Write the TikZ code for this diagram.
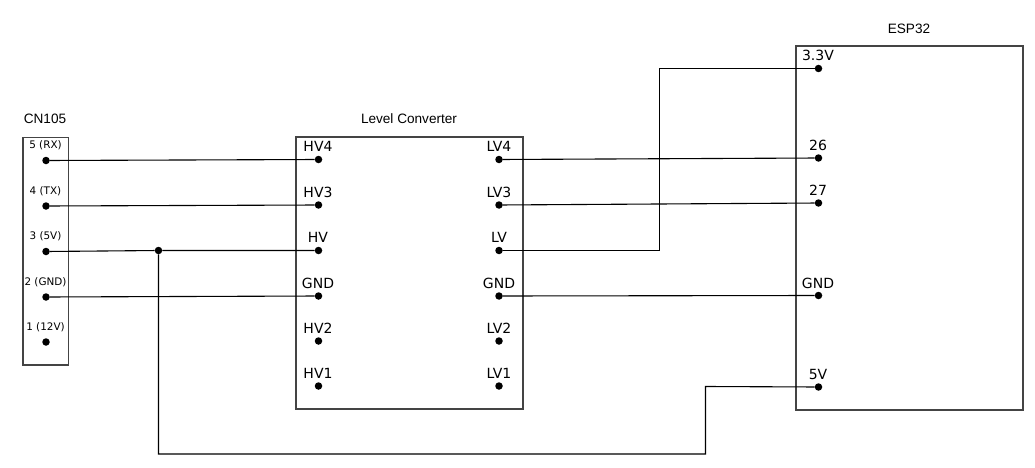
\documentclass[tikz,border=0pt]{standalone}
\usepackage{fontspec}
\setmainfont{Liberation Sans}
\newfontfamily\pinfont{DejaVu Sans}
\definecolor{boxgray}{HTML}{444444}
\tikzset{
  x=1pt,y=-1pt,
  chipbox/.style={draw=boxgray,line width=1.5pt,fill=none},
  pin/.style={circle,fill=black,inner sep=0pt,minimum size=7.5pt},
  wire/.style={draw=black,line width=1.1pt},
  title/.style={font=\fontsize{13.6}{15}\selectfont,text=black,inner sep=0pt},
  biglabel/.style={font=\pinfont\fontsize{14}{16}\selectfont,text=black,inner sep=0pt},
  smalllabel/.style={font=\pinfont\fontsize{10.4}{12}\selectfont,text=black,inner sep=0pt},
}
\begin{document}
\begin{tikzpicture}
\useasboundingbox (0,0) rectangle (1035,468);
% boxes
\draw[chipbox] (23,137.5) rectangle (68.5,365);
\draw[chipbox] (296,137) rectangle (523,409);
\draw[chipbox] (796,46) rectangle (1023,410);
% titles
\node[title] (tcn) at (45,119) {CN105};
\node[title] (tlc) at (409,119) {Level Converter};
\node[title] (tesp) at (909,29) {ESP32};
% CN105 pins
\node[pin] (c5) at (46,160.5) {};
\node[pin] (c4) at (46,206) {};
\node[pin] (c3) at (46,251.5) {};
\node[pin] (c2) at (46,297) {};
\node[pin] (c1) at (46,342) {};
\node[smalllabel] at (45.5,145.5) {5 (RX)};
\node[smalllabel] at (45.5,191) {4 (TX)};
\node[smalllabel] at (45.5,236.5) {3 (5V)};
\node[smalllabel] at (45.5,282) {2 (GND)};
\node[smalllabel] at (45.5,327) {1 (12V)};
% HV pins
\node[pin] (h4) at (318.5,159.5) {};
\node[pin] (h3) at (318.5,205) {};
\node[pin] (hv) at (318.5,250.5) {};
\node[pin] (hg) at (318.5,296) {};
\node[pin] (h2) at (318.5,341) {};
\node[pin] (h1) at (318.5,386) {};
\node[biglabel] at (318,146.5) {HV4};
\node[biglabel] at (318,192) {HV3};
\node[biglabel] at (318,237.5) {HV};
\node[biglabel] at (318,283) {GND};
\node[biglabel] at (318,328.5) {HV2};
\node[biglabel] at (318,373) {HV1};
% LV pins
\node[pin] (l4) at (499,159.5) {};
\node[pin] (l3) at (499,205) {};
\node[pin] (lv) at (499,250.5) {};
\node[pin] (lg) at (499,296) {};
\node[pin] (l2) at (499,341) {};
\node[pin] (l1) at (499,386) {};
\node[biglabel] at (499,146.5) {LV4};
\node[biglabel] at (499,192) {LV3};
\node[biglabel] at (499,237.5) {LV};
\node[biglabel] at (499,283) {GND};
\node[biglabel] at (499,328.5) {LV2};
\node[biglabel] at (499,373) {LV1};
% ESP32 pins
\node[pin] (e33) at (818.5,68.5) {};
\node[pin] (e26) at (818.5,158) {};
\node[pin] (e27) at (818.5,203) {};
\node[pin] (eg) at (818.5,295.5) {};
\node[pin] (e5) at (818.5,387) {};
\node[biglabel] at (818,55.5) {3.3V};
\node[biglabel] at (818,145) {26};
\node[biglabel] at (818,190) {27};
\node[biglabel] at (818,283) {GND};
\node[biglabel] at (818,374) {5V};
% junction
\node[pin] (j) at (158.5,250.5) {};
\coordinate (b1) at (158.5,454);
\coordinate (b2) at (705.5,454);
\coordinate (b3) at (705.5,386.5);
\coordinate (u1) at (659.5,250.5);
\coordinate (u2) at (659.5,68.5);
% wires
\draw[wire] (c5) -- (h4);
\draw[wire] (c4) -- (h3);
\draw[wire] (c3) -- (j) -- (hv);
\draw[wire] (c2) -- (hg);
\draw[wire] (l4) -- (e26);
\draw[wire] (l3) -- (e27);
\draw[wire] (lg) -- (eg);
\draw[wire] (lv) -- (u1) -- (u2) -- (e33);
\draw[wire] (j) -- (b1) -- (b2) -- (b3) -- (e5);
\end{tikzpicture}
\end{document}
